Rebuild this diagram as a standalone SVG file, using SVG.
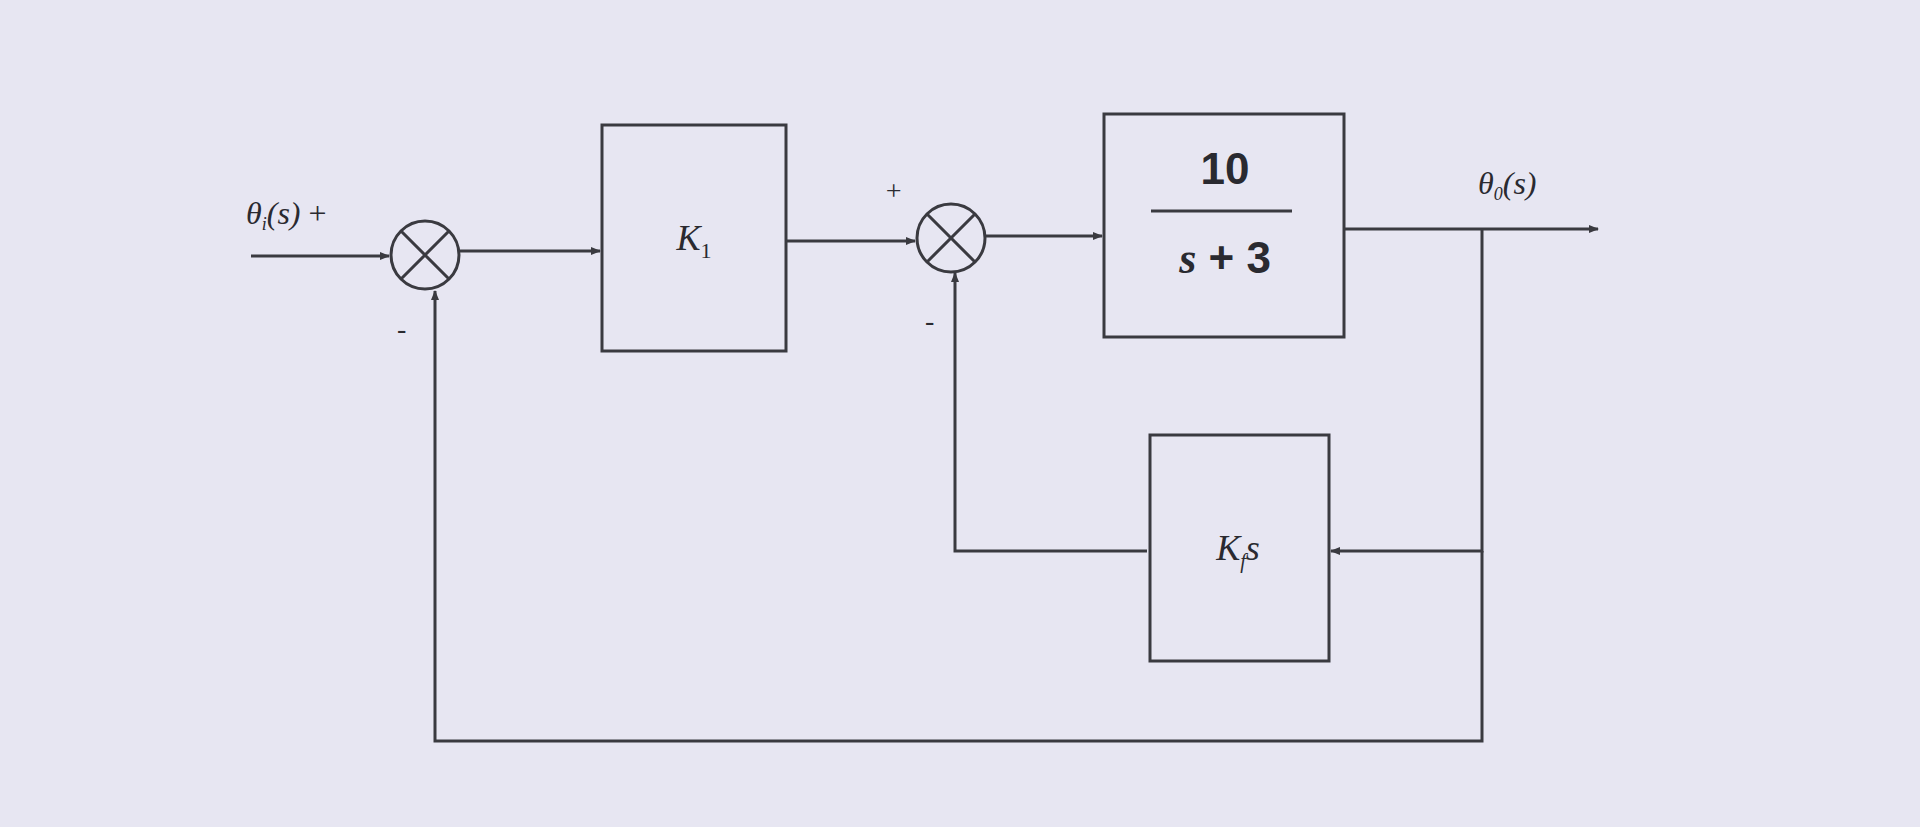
<svg xmlns="http://www.w3.org/2000/svg" width="1920" height="827" viewBox="0 0 1920 827">
<style>
.ln{stroke:#3a3a40;stroke-width:3;fill:none}
.bx{stroke:#3a3a40;stroke-width:3;fill:none}
.t{font-family:"Liberation Serif",serif;font-style:italic;fill:#2a2a30}
.n{font-family:"Liberation Sans",sans-serif;font-weight:bold;fill:#2a2a30}
</style>
<defs>
<marker id="a" markerWidth="10" markerHeight="8" refX="9" refY="4" orient="auto" markerUnits="userSpaceOnUse"><path d="M0,0 L10,4 L0,8 Z" fill="#3a3a40"/></marker>
</defs>
<rect width="1920" height="827" fill="#e7e6f2"/>
<g id="connectors">
<path class="ln" d="M251,256 H389" marker-end="url(#a)"/>
<path class="ln" d="M459,251 H600" marker-end="url(#a)"/>
<path class="ln" d="M786,241 H915" marker-end="url(#a)"/>
<path class="ln" d="M985,236 H1102" marker-end="url(#a)"/>
<path class="ln" d="M1344,229 H1598" marker-end="url(#a)"/>
<path class="ln" d="M1482,229 V551 H1331" marker-end="url(#a)"/>
<path class="ln" d="M1147,551 H955 V273" marker-end="url(#a)"/>
<path class="ln" d="M1482,551 V741 H435 V291" marker-end="url(#a)"/>
</g>
<g id="sum1">
<circle class="ln" cx="425" cy="255" r="34"/>
<path class="ln" d="M401,231 L449,279 M449,231 L401,279"/>
</g>
<g id="sum2">
<circle class="ln" cx="951" cy="238" r="34"/>
<path class="ln" d="M927,214 L975,262 M975,214 L927,262"/>
</g>
<g id="k1"><rect class="bx" x="602" y="125" width="184" height="226"/>
<text class="t" x="694" y="250" font-size="36" text-anchor="middle">K<tspan font-size="22" dy="8" font-style="normal">1</tspan></text></g>
<g id="plant"><rect class="bx" x="1104" y="114" width="240" height="223" stroke-width="4"/>
<text class="n" x="1225" y="184" font-size="44" text-anchor="middle">10</text>
<line class="ln" x1="1151" y1="211" x2="1292" y2="211"/>
<text class="n" x="1225" y="273" font-size="44" text-anchor="middle"><tspan font-style="italic" font-family="Liberation Serif">s</tspan> + 3</text></g>
<g id="kf"><rect class="bx" x="1150" y="435" width="179" height="226"/>
<text class="t" x="1238" y="560" font-size="36" text-anchor="middle">K<tspan font-size="20" dy="8">f</tspan><tspan dy="-8">s</tspan></text></g>
<g id="labels">
<text class="t" x="246" y="224" font-size="32">θ<tspan font-size="18" dy="6">i</tspan><tspan dy="-6">(s)</tspan> <tspan font-style="normal">+</tspan></text>
<text class="t" x="884" y="200" font-size="28" font-style="normal">+</text>
<text class="t" x="925" y="330" font-size="28" font-style="normal">-</text>
<text class="t" x="397" y="338" font-size="28" font-style="normal">-</text>
<text class="t" x="1478" y="194" font-size="32">θ<tspan font-size="18" dy="6">0</tspan><tspan dy="-6">(s)</tspan></text>
</g>
</svg>
